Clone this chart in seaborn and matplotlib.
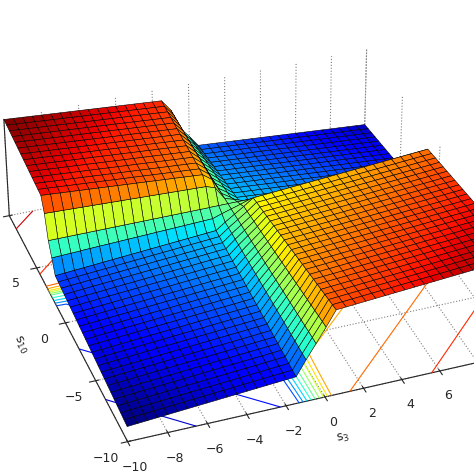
import numpy as np
import matplotlib
matplotlib.use("Agg")
import matplotlib.pyplot as plt
import seaborn as sns

sns.set_style("white")

# grid of the two inputs
s3 = np.linspace(-10, 10, 41)
s10 = np.linspace(-10, 10, 41)
S3, S10 = np.meshgrid(s3, s10)

# saturated saddle-shaped output
sat3 = np.clip((S3 + 0.5) / 1.0, -1, 1)
sat10 = np.clip((S10 - 2.5) / 1.0, -1, 1)
Z = -sat3 * sat10 * (2.5 + 0.35 * (np.abs(S3 + 0.5) + np.abs(S10 - 2.5)))
Z = Z + 2.5 * (S3 < -0.5) * (S10 > 2.5)

fig = plt.figure(figsize=(4.74, 4.74), dpi=100)
ax = fig.add_axes([-0.07, -0.1, 1.18, 1.18], projection="3d")
ax.plot_surface(S3, S10, Z, cmap="jet", edgecolor="black", linewidth=0.4,
                rstride=1, cstride=1, antialiased=True)
ax.contour(S3, S10, Z, levels=14, cmap="jet", offset=-14, linewidths=0.8)
ax.set_zlim(-14, 11)
ax.set_xlim(-10, 10)
ax.set_ylim(-10, 10)
ax.set_box_aspect((1, 1, 0.3))
ax.set_xticks(np.arange(-10, 11, 2))
ax.set_yticks([-10, -5, 0, 5, 10])
ax.set_zticks([])
ax.tick_params(labelsize=9)
ax.set_xlabel("s$_3$", fontsize=9)
ax.set_ylabel("s$_{10}$", fontsize=9)
ax.view_init(elev=35, azim=-110)
for a in (ax.xaxis, ax.yaxis, ax.zaxis):
    a.pane.fill = False
    a.pane.set_edgecolor("none")
    a._axinfo["grid"]["linestyle"] = ":"
    a._axinfo["grid"]["color"] = "0.5"
fig.savefig("out.png", dpi=100)
